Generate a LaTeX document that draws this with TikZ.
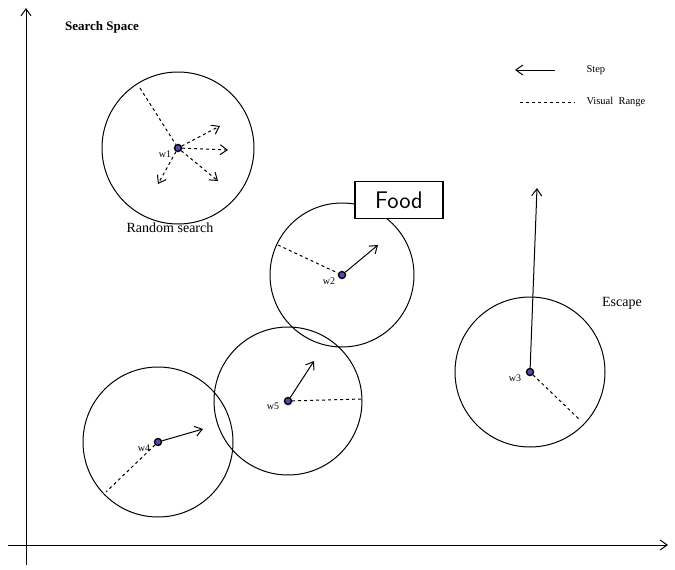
\documentclass[tikz,border=0pt]{standalone}
\usepackage{fontspec}
\setmainfont{Liberation Serif}
\usetikzlibrary{arrows.meta}
\begin{document}
\begin{tikzpicture}[x=1pt,y=-1pt,
  rng/.style={draw,line width=1pt},
  stp/.style={draw,-{Straight Barb[length=7pt,width=10pt]},line width=1pt},
  vis/.style={draw,dashed,line width=1pt},
  agent/.style={circle,draw=black,fill=blue!40!gray,line width=1.4pt,inner sep=0pt,minimum size=7pt},
  lbl/.style={font=\fontsize{10}{12}\selectfont},
  big/.style={font=\fontsize{14}{16}\selectfont}]
\useasboundingbox (0,0) rectangle (675,570);
\coordinate (yb) at (26,565); \coordinate (yt) at (26,8);
\coordinate (xb) at (8,545); \coordinate (xt) at (668,545);
\draw[stp] (yb) -- (yt);
\draw[stp] (xb) -- (xt);
\node[font=\bfseries\fontsize{13}{15}\selectfont] (ss) at (102,27) {Search Space};
% legend
\coordinate (la) at (555,70); \coordinate (lb) at (515,70);
\draw[stp] (la) -- (lb);
\node[font=\fontsize{10.5}{12}\selectfont,anchor=west] (lstep) at (583,70) {Step};
\coordinate (lc) at (520,102); \coordinate (ld) at (575,102);
\draw[vis] (lc) -- (ld);
\node[font=\fontsize{10.5}{12}\selectfont,anchor=west] (lvis) at (583,102) {Visual~~Range};
% agent 1
\node[rng,circle,minimum size=152pt] (c1) at (178,148) {};
\node[agent] (w1) at (178,148) {};
\node[lbl] (t1) at (165,154) {w1};
\coordinate (d1) at (140,88);
\draw[vis] (d1) -- (w1);
\coordinate (a1) at (220,126); \coordinate (a2) at (228,150);
\coordinate (a3) at (218,181); \coordinate (a4) at (158,184);
\foreach \p in {a1,a2,a3,a4} \draw[stp,dashed] (w1) -- (\p);
\node[big] (rs) at (170,228) {Random search};
% agent 2
\node[rng,circle,minimum size=144pt] (c2) at (342,275) {};
\node[agent] (w2) at (342,275) {};
\node[lbl] (t2) at (329,281) {w2};
\coordinate (d2) at (278,245);
\draw[vis] (d2) -- (w2);
\coordinate (a5) at (378,245);
\draw[stp] (w2) -- (a5);
\node[draw,fill=white,line width=1.2pt,minimum width=88pt,minimum height=37pt,font=\fontsize{24}{26}\selectfont\sffamily] (food) at (399,200) {Food};
% agent 3
\node[rng,circle,minimum size=150pt] (c3) at (530,372) {};
\node[agent] (w3) at (530,372) {};
\node[lbl] (t3) at (515,378) {w3};
\coordinate (d3) at (580,420);
\draw[vis] (w3) -- (d3);
\coordinate (a6) at (537,188);
\draw[stp] (w3) -- (a6);
\node[big] (esc) at (622,303) {Escape};
% agent 4
\node[rng,circle,minimum size=150pt] (c4) at (158,442) {};
\node[agent] (w4) at (158,442) {};
\node[lbl] (t4) at (144,448) {w4};
\coordinate (d4) at (106,492);
\draw[vis] (w4) -- (d4);
\coordinate (a7) at (203,429);
\draw[stp] (w4) -- (a7);
% agent 5
\node[rng,circle,minimum size=148pt] (c5) at (288,401) {};
\node[agent] (w5) at (288,401) {};
\node[lbl] (t5) at (273,406) {w5};
\coordinate (d5) at (362,399);
\draw[vis] (w5) -- (d5);
\coordinate (a8) at (314,361);
\draw[stp] (w5) -- (a8);
\end{tikzpicture}
\end{document}
